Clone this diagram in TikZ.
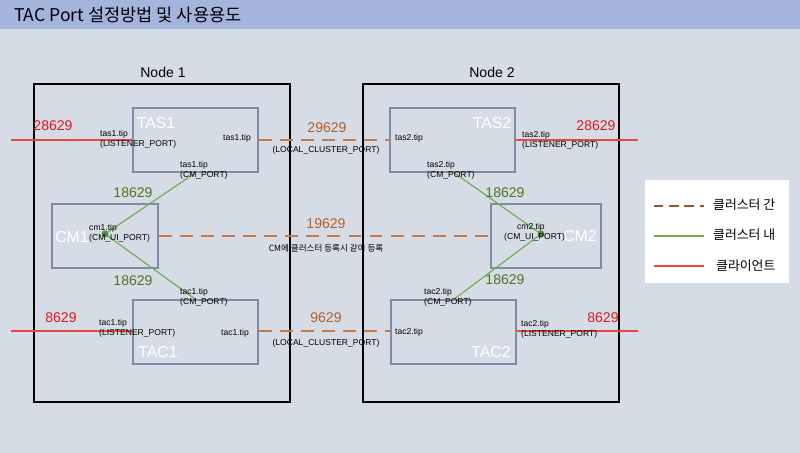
\documentclass[tikz,border=0pt]{standalone}
\usepackage{fontspec}
\setmainfont{Liberation Sans}
\newfontfamily\cjk{Noto Sans CJK KR}
\begin{document}
\begin{tikzpicture}[x=0.03cm,y=-0.03cm,
 box/.style={draw=boxc,line width=1.2pt},
 nodebox/.style={draw=black,line width=1.2pt},
 big/.style={text=white,font=\fontsize{13.5}{13.5}\selectfont},
 sm/.style={font=\fontsize{7.3}{8.3}\selectfont,align=left,inner sep=0},
 num/.style={font=\fontsize{12}{12}\selectfont,inner sep=0},
 red/.style={draw=redc,line width=1pt},
 dsh/.style={draw=orc,line width=1.6pt,dash pattern=on 11pt off 7pt},
 grn/.style={draw=grc,line width=1pt}]
\definecolor{bg}{HTML}{D6DCE5}\definecolor{ttl}{HTML}{A4B4DC}
\definecolor{boxc}{HTML}{7F8BA3}\definecolor{redc}{HTML}{E8473F}
\definecolor{orc}{HTML}{C87B47}\definecolor{grc}{HTML}{6AAE4F}
\definecolor{grt}{HTML}{4F7424}\definecolor{ort}{HTML}{B0602A}\definecolor{rdt}{HTML}{DD1A1A}
\fill[bg] (0,0) rectangle (800,453);
\fill[ttl] (0,0) rectangle (800,29);
\node[anchor=west,font=\cjk\fontsize{15}{15}\selectfont] (title) at (10,15) {TAC Port 설정방법 및 사용용도};
% node boxes
\draw[nodebox] (34,84) rectangle (290,402);
\draw[nodebox] (363,84) rectangle (619,402);
\node[font=\fontsize{12}{12}\selectfont] (n1) at (163,72) {Node 1};
\node[font=\fontsize{12}{12}\selectfont] (n2) at (492,72) {Node 2};
% component boxes
\node[box,minimum width=125*0.03cm,minimum height=64*0.03cm] (tas1) at (195.5,140) {};
\node[box,minimum width=125*0.03cm,minimum height=64*0.03cm] (tac1) at (195.5,332) {};
\node[box,minimum width=106*0.03cm,minimum height=64*0.03cm] (cm1) at (105,236) {};
\node[box,minimum width=125*0.03cm,minimum height=64*0.03cm] (tas2) at (452.5,140) {};
\node[box,minimum width=125*0.03cm,minimum height=64*0.03cm] (tac2) at (453.5,332) {};
\node[box,minimum width=110*0.03cm,minimum height=64*0.03cm] (cm2) at (546,236) {};
\node[big] (l1) at (156,123) {TAS1};
\node[big] (l2) at (158,352) {TAC1};
\node[big] (l3) at (72,237) {CM1};
\node[big] (l4) at (492,123) {TAS2};
\node[big] (l5) at (491,352) {TAC2};
\node[big] (l6) at (580,236) {CM2};
% red client lines
\coordinate (r1) at (11,140); \coordinate (r2) at (11,331);
\coordinate (r3) at (638,140); \coordinate (r4) at (638,331);
\draw[red] (r1) -- (tas1.west|-r1);
\draw[red] (r2) -- (tac1.west|-r2);
\draw[red] (tas2.east|-r3) -- (r3);
\draw[red] (tac2.east|-r4) -- (r4);
% dashed
\draw[dsh] (tas1.east|-r1) -- (tas2.west|-r1);
\draw[dsh] (tac1.east|-r2) -- (tac2.west|-r2);
\draw[dsh] (cm1.east) -- (cm2.west);
% green
\coordinate (c1) at (105,234); \coordinate (c2) at (541,234);
\draw[grn] (c1) -- (tas1.south) (c1) -- (tac1.north);
\draw[grn] (c2) -- (453,172) (c2) -- (453,300);
\fill[grc!80!black] (c1) circle (3.5); \fill[grc!80!black] (c2) circle (3.5);
% labels left
\node[num,text=rdt] (a1) at (53,126) {28629};
\node[num,text=rdt] (a2) at (61,318) {8629};
\node[sm,anchor=north west] (b1) at (100,130) {tas1.tip\\(LISTENER\_PORT)};
\node[sm,anchor=north west] (b2) at (99,319) {tac1.tip\\(LISTENER\_PORT)};
\node[sm,anchor=east] (b3) at (251,138) {tas1.tip};
\node[sm,anchor=east] (b4) at (249,333) {tac1.tip};
\node[sm,anchor=north west] (b5) at (180,161) {tas1.tip\\(CM\_PORT)};
\node[sm,anchor=north west] (b6) at (180,288) {tac1.tip\\(CM\_PORT)};
\node[sm,anchor=north west] (b7) at (89,224) {cm1.tip\\(CM\_UI\_PORT)};
\node[num,text=grt] (g1) at (133,193) {18629};
\node[num,text=grt] (g2) at (133,281) {18629};
% middle
\node[num,text=ort] (m1) at (327,128) {29629};
\node[num,text=ort] (m2) at (326,224) {19629};
\node[num,text=ort] (m3) at (326,318) {9629};
\node[sm] (m4) at (326,150) {(LOCAL\_CLUSTER\_PORT)};
\node[sm] (m5) at (326,343) {(LOCAL\_CLUSTER\_PORT)};
\node[sm,font=\cjk\fontsize{7.3}{8.3}\selectfont] (m6) at (326,248) {CM에 클러스터 등록시 같이 등록};
% right
\node[sm,anchor=west] (d1) at (395,138) {tas2.tip};
\node[sm,anchor=west] (d2) at (395,332) {tac2.tip};
\node[sm,anchor=north west] (d3) at (522,131) {tas2.tip\\(LISTENER\_PORT)};
\node[sm,anchor=north west] (d4) at (521,320) {tac2.tip\\(LISTENER\_PORT)};
\node[sm,anchor=north west] (d5) at (427,161) {tas2.tip\\(CM\_PORT)};
\node[sm,anchor=north west] (d6) at (424,288) {tac2.tip\\(CM\_PORT)};
\node[sm,anchor=north west] (d7) at (504,223) {\hspace*{11pt}cm2.tip\\(CM\_UI\_PORT)};
\node[num,text=rdt] (a3) at (596,126) {28629};
\node[num,text=rdt] (a4) at (603,318) {8629};
\node[num,text=grt] (g3) at (505,193) {18629};
\node[num,text=grt] (g4) at (505,280) {18629};
% legend
\fill[white] (645,180) rectangle (789,283);
\coordinate (e1) at (654,206); \coordinate (e2) at (704,206);
\coordinate (e3) at (654,236); \coordinate (e4) at (704,236);
\coordinate (e5) at (654,266); \coordinate (e6) at (704,266);
\draw[draw=ort!90!black,line width=1pt,dash pattern=on 8pt off 5pt] (e1) -- (e2);
\draw[grn] (e3) -- (e4);
\draw[red] (e5) -- (e6);
\node[anchor=west,font=\cjk\fontsize{11}{11}\selectfont] (t1) at (709,205) {클러스터 간};
\node[anchor=west,font=\cjk\fontsize{11}{11}\selectfont] (t2) at (709,235) {클러스터 내};
\node[anchor=west,font=\cjk\fontsize{11}{11}\selectfont] (t3) at (712,266) {클라이언트};
\end{tikzpicture}
\end{document}
